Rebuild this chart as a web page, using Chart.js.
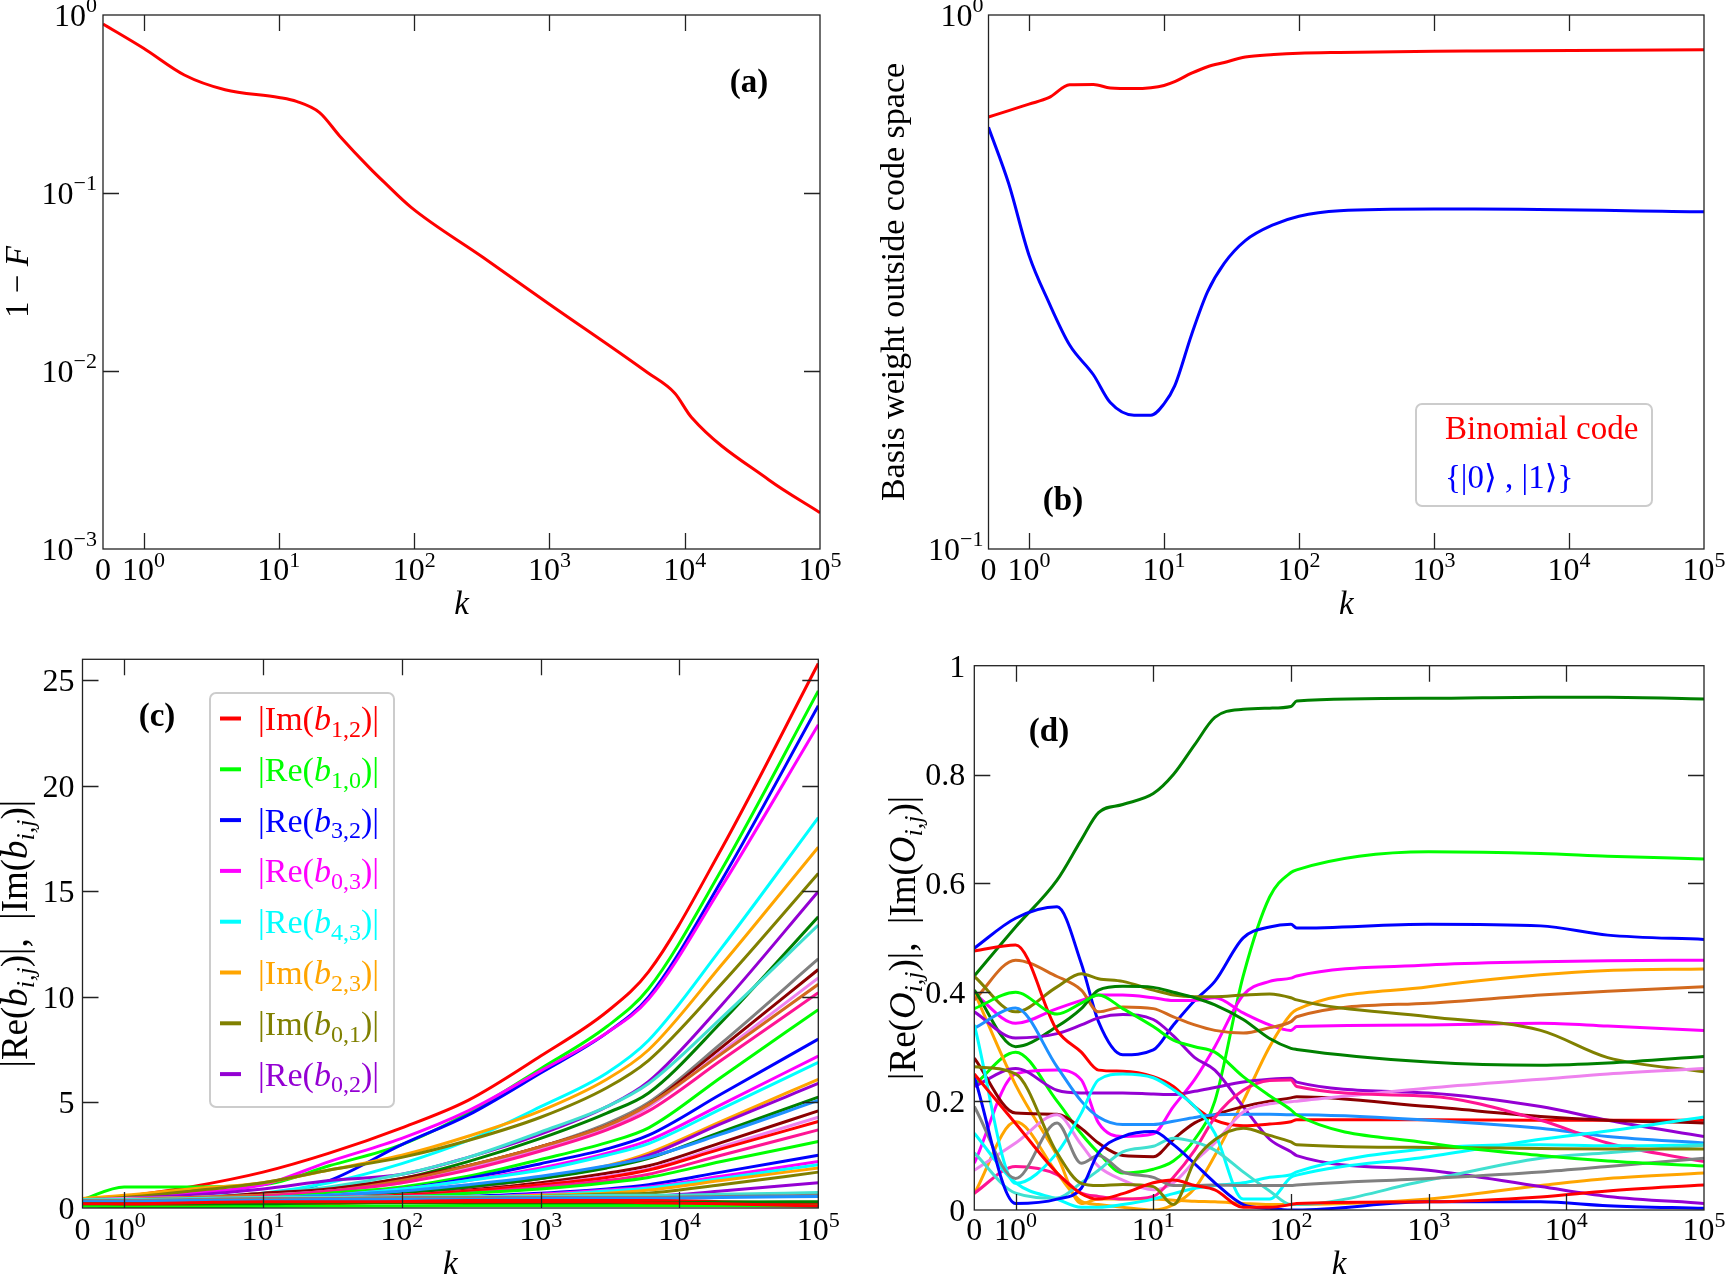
<!DOCTYPE html>
<html>
<head>
<meta charset="utf-8">
<script src="https://cdn.jsdelivr.net/npm/chart.js@4/dist/chart.umd.min.js"></script>
<style>
  body { margin: 0; background: #fff; }
  #fig { position: relative; width: 1725px; height: 1277px; overflow: hidden; }
  #fig canvas { position: absolute; }
</style>
</head>
<body>
<div id="fig">
  <canvas id="panelA" width="862" height="640" style="left:0;top:0"></canvas>
  <canvas id="panelB" width="863" height="640" style="left:862px;top:0"></canvas>
  <canvas id="panelC" width="862" height="637" style="left:0;top:640px"></canvas>
  <canvas id="panelD" width="863" height="637" style="left:862px;top:640px"></canvas>
</div>
<script>
// ---- data ----
const xTickValues = [0, 1, 10, 100, 1000, 10000, 100000];
const xTickLabels = ["0", "10<sup>0</sup>", "10<sup>1</sup>", "10<sup>2</sup>", "10<sup>3</sup>", "10<sup>4</sup>", "10<sup>5</sup>"];

// (a) infidelity
const kA = [0, 1, 2, 4, 10, 13.5, 20, 28, 47, 60, 95, 324, 970, 5300, 8450, 11200, 41700, 100000];
const infidelity = [0.89, 0.65, 0.46, 0.38, 0.344, 0.327, 0.283, 0.21, 0.138, 0.115, 0.083, 0.0434, 0.0241, 0.0098, 0.0075, 0.0055, 0.00245, 0.0016];
const aYTicks = [0.001, 0.01, 0.1, 1];
const aYTickLabels = ["10<sup>\u22123</sup>", "10<sup>\u22122</sup>", "10<sup>\u22121</sup>", "10<sup>0</sup>"];

// (b) basis weight outside code space
const kB = [0, 0.5, 1, 1.4, 2, 3, 4, 6, 8, 10, 12, 16, 21, 28, 40, 65, 100, 200, 1000, 2000, 100000];
const binomialWeight = [0.644, 0.662, 0.681, 0.70, 0.740, 0.741, 0.730, 0.728, 0.731, 0.738, 0.750, 0.778, 0.80, 0.815, 0.834, 0.843, 0.848, 0.851, 0.855, 0.856, 0.861];
const fockWeight = [0.616, 0.483, 0.355, 0.290, 0.241, 0.212, 0.188, 0.178, 0.178, 0.187, 0.202, 0.252, 0.303, 0.343, 0.378, 0.405, 0.420, 0.430, 0.433, 0.433, 0.428];
const bLabels = ["Binomial code", "{|0\u27E9 , |1\u27E9}"];
const bYTicks = [0.1, 1];
const bYTickLabels = ["10<sup>\u22121</sup>", "10<sup>0</sup>"];

// colours
const RED = "#ff0000", LIME = "#00ff00", BLUE = "#0000ff", MAGENTA = "#ff00ff", CYAN = "#00ffff",
      ORANGE = "#ffa500", OLIVE = "#808000", DVIOLET = "#9400d3", GREEN = "#008000", TURQ = "#40e0d0",
      GRAY = "#808080", MAROON = "#8b0000", VIOLET = "#ee82ee", CHOC = "#d2691e", DPINK = "#ff1493",
      DBLUE = "#1e90ff";

// (c) coefficients b_ij
const kC = [0, 1, 3, 10, 30, 100, 300, 1000, 3000, 6000, 20000, 100000];
const cLabels = [
  "|Im(<i>b</i><sub>1,2</sub>)|", "|Re(<i>b</i><sub>1,0</sub>)|", "|Re(<i>b</i><sub>3,2</sub>)|", "|Re(<i>b</i><sub>0,3</sub>)|",
  "|Re(<i>b</i><sub>4,3</sub>)|", "|Im(<i>b</i><sub>2,3</sub>)|", "|Im(<i>b</i><sub>0,1</sub>)|", "|Re(<i>b</i><sub>0,2</sub>)|"
];
const cColors = [RED, LIME, BLUE, MAGENTA, CYAN, ORANGE, OLIVE, DVIOLET, GREEN, TURQ, GRAY, MAROON, VIOLET, CHOC, DPINK,
  LIME, BLUE, MAGENTA, CYAN, ORANGE, DVIOLET, GREEN, DBLUE, MAROON, VIOLET, RED, DPINK, LIME, BLUE, MAGENTA, CYAN,
  ORANGE, OLIVE, DVIOLET, TURQ, GRAY, DBLUE, RED, LIME, GREEN, RED];
const cSeries = [
  [0.35, 0.55, 1.0, 1.7, 2.6, 3.8, 5.1, 7.2, 9.3, 11.2, 17.0, 25.8],
  [0.4, 1.0, 1.0, 1.1, 2.0, 3.0, 4.5, 6.6, 8.6, 10.4, 16.0, 24.5],
  [0.3, 0.35, 0.4, 0.5, 1.3, 3.0, 4.4, 6.4, 8.3, 10.0, 15.5, 23.8],
  [0.4, 0.5, 0.7, 1.1, 2.2, 3.3, 4.6, 6.5, 8.3, 9.9, 15.2, 22.9],
  [0.4, 0.45, 0.5, 0.7, 1.2, 2.1, 3.2, 4.8, 6.4, 7.95, 12.3, 18.5],
  [0.45, 0.6, 0.9, 1.2, 1.8, 2.5, 3.4, 4.6, 6.1, 7.5, 11.5, 17.1],
  [0.4, 0.5, 0.8, 1.2, 1.8, 2.4, 3.2, 4.3, 5.7, 7.0, 10.6, 15.85],
  [0.35, 0.45, 0.6, 0.9, 1.3, 1.6, 2.4, 3.5, 4.8, 6.0, 9.6, 15.0],
  [0.3, 0.35, 0.45, 0.6, 0.9, 1.4, 2.2, 3.3, 4.5, 5.45, 8.8, 13.8],
  [0.35, 0.4, 0.5, 0.7, 1.0, 1.6, 2.4, 3.6, 4.8, 5.9, 9.0, 13.4],
  [0.3, 0.35, 0.45, 0.6, 0.9, 1.3, 2.0, 2.9, 4.0, 5.0, 7.8, 11.8],
  [0.3, 0.35, 0.45, 0.7, 0.9, 1.4, 2.0, 2.9, 3.9, 4.9, 7.6, 11.3],
  [0.4, 0.45, 0.5, 0.6, 0.8, 1.2, 1.9, 2.8, 3.8, 4.8, 7.4, 10.9],
  [0.35, 0.4, 0.5, 0.6, 0.8, 1.3, 2.0, 2.9, 3.9, 4.9, 7.3, 10.6],
  [0.3, 0.35, 0.4, 0.55, 0.8, 1.2, 1.8, 2.7, 3.7, 4.6, 7.0, 10.2],
  [0.25, 0.3, 0.35, 0.45, 0.7, 1.0, 1.5, 2.3, 3.1, 3.8, 6.2, 9.4],
  [0.3, 0.3, 0.35, 0.45, 0.6, 0.9, 1.4, 2.1, 2.8, 3.45, 5.4, 8.0],
  [0.3, 0.35, 0.4, 0.45, 0.6, 0.9, 1.3, 1.9, 2.6, 3.2, 4.9, 7.2],
  [0.35, 0.35, 0.4, 0.5, 0.6, 0.9, 1.3, 1.8, 2.5, 3.05, 4.7, 6.9],
  [0.3, 0.35, 0.4, 0.45, 0.55, 0.75, 1.0, 1.4, 2.0, 2.6, 4.1, 6.1],
  [0.3, 0.3, 0.35, 0.4, 0.5, 0.7, 1.0, 1.4, 1.95, 2.5, 4.0, 5.9],
  [0.25, 0.3, 0.35, 0.4, 0.5, 0.7, 1.0, 1.4, 1.9, 2.35, 3.6, 5.25],
  [0.3, 0.3, 0.35, 0.45, 0.6, 0.8, 1.1, 1.5, 2.0, 2.4, 3.5, 5.1],
  [0.3, 0.3, 0.35, 0.4, 0.5, 0.6, 0.85, 1.2, 1.65, 2.0, 3.1, 4.6],
  [0.35, 0.35, 0.4, 0.4, 0.5, 0.6, 0.8, 1.1, 1.5, 1.85, 2.9, 4.3],
  [0.25, 0.3, 0.3, 0.35, 0.45, 0.6, 0.8, 1.1, 1.45, 1.8, 2.8, 4.1],
  [0.3, 0.3, 0.3, 0.35, 0.4, 0.55, 0.7, 1.0, 1.3, 1.6, 2.5, 3.7],
  [0.2, 0.25, 0.3, 0.35, 0.4, 0.5, 0.7, 0.9, 1.2, 1.45, 2.2, 3.15],
  [0.2, 0.2, 0.25, 0.3, 0.35, 0.45, 0.55, 0.7, 0.9, 1.1, 1.7, 2.5],
  [0.3, 0.3, 0.3, 0.3, 0.35, 0.4, 0.5, 0.65, 0.85, 1.0, 1.5, 2.2],
  [0.25, 0.25, 0.3, 0.3, 0.35, 0.4, 0.5, 0.6, 0.8, 0.95, 1.4, 2.05],
  [0.3, 0.3, 0.3, 0.35, 0.35, 0.4, 0.5, 0.6, 0.7, 0.85, 1.3, 1.9],
  [0.35, 0.35, 0.35, 0.35, 0.4, 0.45, 0.5, 0.55, 0.65, 0.7, 1.1, 1.7],
  [0.3, 0.3, 0.3, 0.3, 0.35, 0.4, 0.45, 0.5, 0.52, 0.55, 0.8, 1.2],
  [0.4, 0.4, 0.45, 0.5, 0.5, 0.55, 0.55, 0.55, 0.6, 0.6, 0.65, 0.73],
  [0.35, 0.35, 0.4, 0.45, 0.45, 0.5, 0.5, 0.5, 0.5, 0.5, 0.55, 0.6],
  [0.3, 0.3, 0.35, 0.35, 0.4, 0.4, 0.4, 0.45, 0.45, 0.45, 0.5, 0.55],
  [0.15, 0.1, 0.1, 0.15, 0.2, 0.3, 0.35, 0.35, 0.35, 0.35, 0.3, 0.2],
  [0.1, 0.05, 0.05, 0.08, 0.1, 0.1, 0.12, 0.12, 0.12, 0.12, 0.12, 0.1],
  [0.2, 0.2, 0.2, 0.2, 0.25, 0.25, 0.25, 0.25, 0.25, 0.25, 0.28, 0.3],
  [0.2, 0.2, 0.25, 0.3, 0.3, 0.3, 0.3, 0.3, 0.3, 0.25, 0.2, 0.1]
];
const cYTicks = [0, 5, 10, 15, 20, 25];
const cYTickLabels = ["0", "5", "10", "15", "20", "25"];

// (d) elements O_ij
const kD = [0, 1, 2, 3, 4, 6, 10, 14, 20, 28, 45, 70, 100, 110, 1000, 6500, 20000, 100000];
const dColors = [GREEN, LIME, BLUE, MAGENTA, MAGENTA, ORANGE, ORANGE, CHOC, OLIVE, GREEN, DVIOLET, DVIOLET, RED,
  MAROON, DBLUE, VIOLET, DPINK, CYAN, CYAN, TURQ, GRAY, BLUE, OLIVE, LIME, RED];
const dSeries = [
  [0.43, 0.52, 0.606, 0.68, 0.73, 0.745, 0.765, 0.80, 0.855, 0.905, 0.92, 0.922, 0.925, 0.935, 0.94, 0.942, 0.942, 0.939],
  [0.23, 0.29, 0.20, 0.14, 0.105, 0.068, 0.075, 0.09, 0.13, 0.20, 0.43, 0.575, 0.62, 0.625, 0.658, 0.655, 0.65, 0.645],
  [0.481, 0.536, 0.557, 0.453, 0.346, 0.285, 0.294, 0.34, 0.385, 0.42, 0.50, 0.52, 0.525, 0.518, 0.525, 0.522, 0.505, 0.497],
  [0.398, 0.343, 0.37, 0.385, 0.395, 0.395, 0.39, 0.385, 0.385, 0.39, 0.362, 0.34, 0.33, 0.337, 0.34, 0.343, 0.338, 0.33],
  [0.086, 0.25, 0.257, 0.239, 0.16, 0.135, 0.14, 0.19, 0.24, 0.30, 0.395, 0.42, 0.426, 0.43, 0.45, 0.456, 0.458, 0.459],
  [0.03, 0.162, 0.068, 0.016, 0.01, 0.005, 0.0, 0.01, 0.04, 0.10, 0.20, 0.30, 0.36, 0.368, 0.41, 0.432, 0.44, 0.443],
  [0.40, 0.23, 0.10, 0.012, 0.02, 0.02, 0.02, 0.018, 0.016, 0.015, 0.012, 0.01, 0.01, 0.01, 0.02, 0.045, 0.058, 0.068],
  [0.386, 0.459, 0.429, 0.404, 0.364, 0.373, 0.37, 0.355, 0.34, 0.33, 0.325, 0.335, 0.346, 0.355, 0.38, 0.395, 0.402, 0.41],
  [0.429, 0.364, 0.41, 0.434, 0.425, 0.42, 0.404, 0.395, 0.392, 0.392, 0.395, 0.397, 0.39, 0.386, 0.355, 0.33, 0.28, 0.254],
  [0.404, 0.30, 0.337, 0.37, 0.404, 0.411, 0.409, 0.40, 0.39, 0.377, 0.35, 0.315, 0.297, 0.295, 0.272, 0.266, 0.27, 0.282],
  [0.364, 0.316, 0.324, 0.34, 0.353, 0.359, 0.35, 0.32, 0.28, 0.257, 0.19, 0.13, 0.107, 0.10, 0.073, 0.043, 0.025, 0.012],
  [0.227, 0.26, 0.22, 0.215, 0.215, 0.215, 0.213, 0.212, 0.218, 0.225, 0.235, 0.24, 0.242, 0.235, 0.215, 0.19, 0.165, 0.135],
  [0.476, 0.487, 0.33, 0.29, 0.257, 0.255, 0.245, 0.227, 0.19, 0.165, 0.155, 0.158, 0.162, 0.166, 0.166, 0.165, 0.165, 0.165],
  [0.279, 0.178, 0.176, 0.15, 0.123, 0.10, 0.098, 0.13, 0.16, 0.175, 0.19, 0.20, 0.206, 0.208, 0.19, 0.172, 0.165, 0.16],
  [0.334, 0.371, 0.263, 0.20, 0.171, 0.157, 0.157, 0.163, 0.17, 0.175, 0.176, 0.176, 0.175, 0.175, 0.165, 0.15, 0.135, 0.123],
  [0.073, 0.123, 0.175, 0.12, 0.08, 0.055, 0.037, 0.05, 0.09, 0.123, 0.18, 0.195, 0.199, 0.20, 0.224, 0.24, 0.25, 0.26],
  [0.031, 0.08, 0.065, 0.031, 0.025, 0.02, 0.025, 0.06, 0.11, 0.17, 0.22, 0.238, 0.239, 0.227, 0.209, 0.165, 0.123, 0.089],
  [0.34, 0.049, 0.105, 0.178, 0.239, 0.25, 0.243, 0.221, 0.19, 0.141, 0.02, 0.02, 0.06, 0.064, 0.098, 0.13, 0.145, 0.171],
  [0.141, 0.05, 0.02, 0.005, 0.005, 0.01, 0.02, 0.03, 0.04, 0.045, 0.05, 0.06, 0.065, 0.07, 0.113, 0.12, 0.118, 0.12],
  [0.105, 0.031, 0.022, 0.05, 0.073, 0.107, 0.117, 0.132, 0.125, 0.11, 0.07, 0.035, 0.01, 0.01, 0.055, 0.095, 0.105, 0.119],
  [0.19, 0.058, 0.16, 0.086, 0.10, 0.07, 0.06, 0.045, 0.045, 0.046, 0.045, 0.045, 0.045, 0.046, 0.058, 0.07, 0.08, 0.095],
  [0.245, 0.012, 0.02, 0.04, 0.105, 0.135, 0.144, 0.12, 0.085, 0.05, 0.01, 0.003, 0.0, 0.0, 0.015, 0.015, 0.008, 0.003],
  [0.263, 0.25, 0.105, 0.049, 0.045, 0.047, 0.043, 0.01, 0.09, 0.129, 0.15, 0.137, 0.125, 0.12, 0.115, 0.113, 0.112, 0.112],
  [0.37, 0.40, 0.36, 0.38, 0.395, 0.37, 0.337, 0.312, 0.30, 0.29, 0.245, 0.21, 0.184, 0.175, 0.123, 0.10, 0.09, 0.081],
  [0.25, 0.159, 0.068, 0.03, 0.02, 0.03, 0.05, 0.055, 0.045, 0.037, 0.005, 0.005, 0.01, 0.012, 0.015, 0.024, 0.035, 0.046]
];
const dYTicks = [0, 0.2, 0.4, 0.6, 0.8, 1];
const dYTickLabels = ["0", "0.2", "0.4", "0.6", "0.8", "1"];

// ---- symlog x axis: linear on [0,1], log above ----
const LIN_SPAN = 0.3;
function symlog(k) { return k <= 1 ? k * LIN_SPAN : LIN_SPAN + Math.log10(k); }
function symexp(u) { return u <= LIN_SPAN ? u / LIN_SPAN : Math.pow(10, u - LIN_SPAN); }

class SymlogScale extends Chart.LinearScale {
  configure() {
    super.configure();
    this._uStart = symlog(this.min);
    this._uRange = symlog(this.max) - this._uStart;
  }
  getPixelForValue(v) {
    if (v === null || v === undefined || isNaN(v)) return NaN;
    return this.getPixelForDecimal((symlog(v) - this._uStart) / this._uRange);
  }
  getValueForPixel(p) {
    return symexp(this._uStart + this.getDecimalForPixel(p) * this._uRange);
  }
}
SymlogScale.id = "symlog";
SymlogScale.defaults = {};
Chart.register(SymlogScale);

// ---- rich text (italic, sub, sup) ----
const FONT = '"Liberation Serif", "DejaVu Serif", serif';
const FS = 32;
const AXIS = "#222";

function parseRich(s) {
  const out = [];
  let italic = false, pos = "base";
  s.split(/(<\/?(?:i|sub|sup)>)/).forEach(t => {
    if (t === "<i>") italic = true;
    else if (t === "</i>") italic = false;
    else if (t === "<sub>") pos = "sub";
    else if (t === "<sup>") pos = "sup";
    else if (t === "</sub>" || t === "</sup>") pos = "base";
    else if (t) out.push({ text: t, italic, pos });
  });
  return out;
}
function segFont(seg, size, bold) {
  const px = seg.pos === "base" ? size : Math.round(size * 0.7);
  return (seg.italic ? "italic " : "") + (bold ? "bold " : "") + px + "px " + FONT;
}
function drawRich(ctx, str, x, y, opts) {
  const size = opts.size || FS;
  const segs = parseRich(str);
  let w = 0;
  segs.forEach(s => { ctx.font = segFont(s, size, opts.bold); w += ctx.measureText(s.text).width; });
  let cx = opts.align === "center" ? x - w / 2 : opts.align === "right" ? x - w : x;
  ctx.fillStyle = opts.color || "#000";
  ctx.textAlign = "left";
  ctx.textBaseline = "alphabetic";
  segs.forEach(s => {
    ctx.font = segFont(s, size, opts.bold);
    const dy = s.pos === "sup" ? -0.42 * size : s.pos === "sub" ? 0.2 * size : 0;
    ctx.fillText(s.text, cx, y + dy);
    cx += ctx.measureText(s.text).width;
  });
}

// frame, inward ticks, tick labels, titles, panel tag and legend
const framePlugin = {
  id: "frame",
  afterDraw(chart, args, o) {
    const ctx = chart.ctx, a = chart.chartArea;
    const xs = chart.scales.x, ys = chart.scales.y;
    const T = 16;
    ctx.save();
    ctx.strokeStyle = AXIS;
    ctx.lineWidth = 1.3;
    ctx.beginPath();
    o.xTicks.forEach(v => {
      const p = Math.round(xs.getPixelForValue(v)) + 0.5;
      if (p > a.left + 2 && p < a.right - 2) {
        ctx.moveTo(p, a.bottom); ctx.lineTo(p, a.bottom - T);
        ctx.moveTo(p, a.top); ctx.lineTo(p, a.top + T);
      }
    });
    o.yTicks.forEach(v => {
      const p = Math.round(ys.getPixelForValue(v)) + 0.5;
      if (p > a.top + 2 && p < a.bottom - 2) {
        ctx.moveTo(a.left, p); ctx.lineTo(a.left + T, p);
        ctx.moveTo(a.right, p); ctx.lineTo(a.right - T, p);
      }
    });
    ctx.stroke();
    ctx.strokeRect(a.left, a.top, a.right - a.left, a.bottom - a.top);

    o.xTicks.forEach((v, i) => drawRich(ctx, o.xLabels[i], xs.getPixelForValue(v), o.xLabelBase, { align: "center" }));
    o.yTicks.forEach((v, i) => drawRich(ctx, o.yLabels[i], a.left - o.yGap, ys.getPixelForValue(v) + 0.34 * FS, { align: "right" }));

    drawRich(ctx, "<i>k</i>", (a.left + a.right) / 2, o.xTitleBase, { align: "center", size: 33 });
    ctx.save();
    ctx.translate(o.yTitleBase, (a.top + a.bottom) / 2);
    ctx.rotate(-Math.PI / 2);
    drawRich(ctx, o.yTitle, 0, 0, { align: "center", size: o.yTitleSize });
    ctx.restore();

    drawRich(ctx, o.tag[0], o.tag[1], o.tag[2], { align: "center", bold: true, size: 33 });

    const lg = o.legend;
    if (lg) {
      ctx.fillStyle = "rgba(255,255,255,0.85)";
      ctx.strokeStyle = "#cccccc";
      ctx.lineWidth = 2;
      ctx.beginPath();
      ctx.roundRect(lg.box[0], lg.box[1], lg.box[2], lg.box[3], 6);
      ctx.fill();
      ctx.stroke();
      for (let i = 0; i < lg.count; i++) {
        const ds = chart.data.datasets[i];
        const cy = lg.firstY + i * lg.step;
        if (lg.handle) {
          ctx.strokeStyle = ds.borderColor;
          ctx.lineWidth = 4;
          ctx.beginPath();
          ctx.moveTo(lg.handle[0], cy);
          ctx.lineTo(lg.handle[1], cy);
          ctx.stroke();
        }
        drawRich(ctx, ds.label, lg.textX, cy + lg.baseOff, { color: ds.borderColor, size: lg.size });
      }
    }
    ctx.restore();
  }
};

function makeChart(id, datasets, padding, yScale, frame) {
  return new Chart(document.getElementById(id), {
    type: "line",
    data: { datasets },
    options: {
      responsive: false,
      animation: false,
      devicePixelRatio: 1,
      layout: { padding },
      elements: {
        point: { radius: 0 },
        line: { borderWidth: 3, cubicInterpolationMode: "monotone" }
      },
      plugins: { legend: { display: false }, tooltip: { enabled: false }, frame },
      scales: {
        x: { type: "symlog", min: 0, max: 100000, display: false },
        y: Object.assign({ display: false }, yScale)
      }
    },
    plugins: [framePlugin]
  });
}

function series(ks, vs, color, label, i) {
  return { label: label || "", data: ks.map((k, j) => ({ x: k, y: vs[j] })), borderColor: color, backgroundColor: color, fill: false, order: -i };
}

// (a)
makeChart("panelA",
  [series(kA, infidelity, RED, "1 - F", 0)],
  { left: 103, top: 15, right: 42, bottom: 91 },
  { type: "logarithmic", min: 0.001, max: 1 },
  { xTicks: xTickValues, xLabels: xTickLabels, xLabelBase: 580, yTicks: aYTicks, yLabels: aYTickLabels, yGap: 6,
    xTitleBase: 614, yTitle: "1 \u2212 <i>F</i>", yTitleSize: 33, yTitleBase: 28, tag: ["(a)", 749, 92] });

// (b)
makeChart("panelB",
  [series(kB, binomialWeight, RED, bLabels[0], 0), series(kB, fockWeight, BLUE, bLabels[1], 1)],
  { left: 126.5, top: 15, right: 21, bottom: 91 },
  { type: "logarithmic", min: 0.1, max: 1 },
  { xTicks: xTickValues, xLabels: xTickLabels, xLabelBase: 580, yTicks: bYTicks, yLabels: bYTickLabels, yGap: 5,
    xTitleBase: 614, yTitle: "Basis weight outside code space", yTitleSize: 34, yTitleBase: 42, tag: ["(b)", 201, 510],
    legend: { box: [554, 404, 236, 102], count: 2, firstY: 428, step: 49, textX: 583, baseOff: 11, handle: null, size: 33 } });

// (c)
makeChart("panelC",
  cSeries.map((vs, i) => series(kC, vs, cColors[i], cLabels[i], i)),
  { left: 82.5, top: 19.3, right: 43.7, bottom: 69 },
  { type: "linear", min: 0, max: 26 },
  { xTicks: xTickValues, xLabels: xTickLabels, xLabelBase: 600, yTicks: cYTicks, yLabels: cYTickLabels, yGap: 8,
    xTitleBase: 634, yTitle: "|Re(<i>b</i><sub><i>i,j</i></sub>)|,  |Im(<i>b</i><sub><i>i,j</i></sub>)|", yTitleSize: 37, yTitleBase: 27,
    tag: ["(c)", 157, 86],
    legend: { box: [210, 53, 184, 414], count: 8, firstY: 78.5, step: 50.8, textX: 258, baseOff: 11.5, handle: [220, 241], size: 34 } });

// (d)
makeChart("panelD",
  dSeries.map((vs, i) => series(kD, vs, dColors[i], "", i)),
  { left: 112.3, top: 25.7, right: 21, bottom: 67 },
  { type: "linear", min: 0, max: 1 },
  { xTicks: xTickValues, xLabels: xTickLabels, xLabelBase: 600, yTicks: dYTicks, yLabels: dYTickLabels, yGap: 9,
    xTitleBase: 634, yTitle: "|Re(<i>O</i><sub><i>i,j</i></sub>)|,  |Im(<i>O</i><sub><i>i,j</i></sub>)|", yTitleSize: 37, yTitleBase: 53,
    tag: ["(d)", 187, 101] });
</script>
</body>
</html>
